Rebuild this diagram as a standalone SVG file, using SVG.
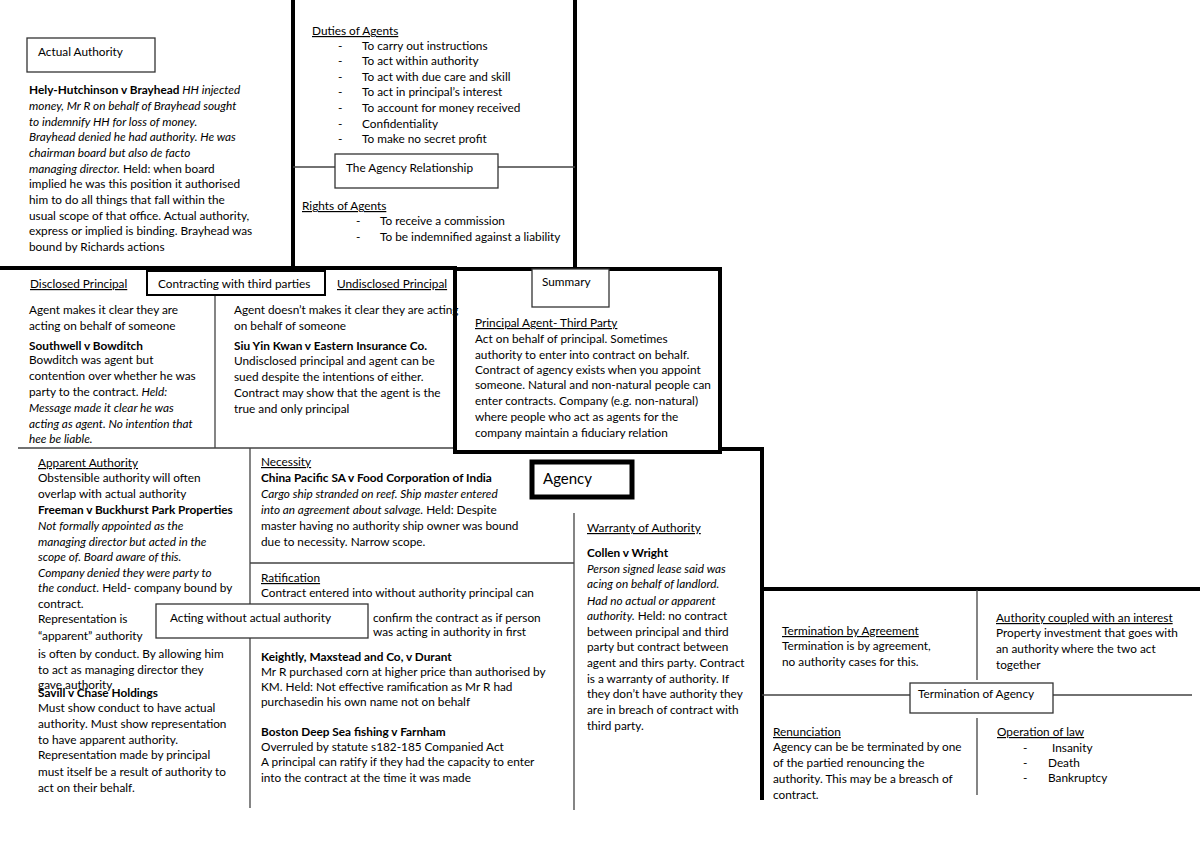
<svg xmlns="http://www.w3.org/2000/svg" width="1200" height="848" viewBox="0 0 1200 848">
<style>
text{font-family:Lato,"Liberation Sans",sans-serif;font-size:11.8px;fill:#000}
.b{font-weight:bold}
.i{font-style:italic}
.u{text-decoration:underline}
.thick{stroke:#000;stroke-width:4;fill:none}
.thin{stroke:#444;stroke-width:1.3;fill:none}
.box{stroke:#333;stroke-width:1.3;fill:#fff}
</style>
<rect width="1200" height="848" fill="#fff"/>
<g id="connectors">
<path class="thick" d="M293,0V268M575,0V268M0,268H457M720,449H762V589H1200M762,589V800"/>
<path class="thin" d="M293,167H335M498,167H575M215,295V448M18,448H455M250,448V604M250,638V808M250,563H574M574,513V810M977,590V680M977,718V795M762,695H910M1053,695H1192"/>
</g>
<g id="actual-authority">
<rect class="box" x="27" y="38" width="128" height="34"/>
<text x="38" y="56">Actual Authority</text>
<text x="29" y="94"><tspan class="b">Hely-Hutchinson v Brayhead</tspan><tspan class="i"> HH injected</tspan></text>
<text x="29" y="110" class="i">money, Mr R on behalf of Brayhead sought</text>
<text x="29" y="126" class="i">to indemnify HH for loss of money.</text>
<text x="29" y="141" class="i">Brayhead denied he had authority. He was</text>
<text x="29" y="157" class="i">chairman board but also de facto</text>
<text x="29" y="173"><tspan class="i">managing director.</tspan> Held: when board</text>
<text x="29" y="188">implied he was this position it authorised</text>
<text x="29" y="204">him to do all things that fall within the</text>
<text x="29" y="220">usual scope of that office. Actual authority,</text>
<text x="29" y="235">express or implied is binding. Brayhead was</text>
<text x="29" y="251">bound by Richards actions</text>
</g>
<g id="agency-relationship">
<text x="312" y="35" class="u">Duties of Agents </text>
<text x="338" y="50">-</text><text x="362" y="50">To carry out instructions</text>
<text x="338" y="65">-</text><text x="362" y="65">To act within authority</text>
<text x="338" y="81">-</text><text x="362" y="81">To act with due care and skill</text>
<text x="338" y="96">-</text><text x="362" y="96">To act in principal’s interest</text>
<text x="338" y="112">-</text><text x="362" y="112">To account for money received</text>
<text x="338" y="128">-</text><text x="362" y="128">Confidentiality</text>
<text x="338" y="143">-</text><text x="362" y="143">To make no secret profit</text>
<rect class="box" x="335" y="154" width="163" height="34"/>
<text x="346" y="172">The Agency Relationship</text>
<text x="302" y="210" class="u">Rights of Agents </text>
<text x="356" y="225">-</text><text x="380" y="225">To receive a commission</text>
<text x="356" y="241">-</text><text x="380" y="241">To be indemnified against a liability</text>
</g>
<g id="contracting">
<text x="30" y="288" class="u">Disclosed Principal</text>
<text x="337" y="288" class="u">Undisclosed Principal</text>
<text x="29" y="314">Agent makes it clear they are</text>
<text x="29" y="330">acting on behalf of someone</text>
<text x="29" y="350" class="b">Southwell v Bowditch</text>
<text x="29" y="364">Bowditch was agent but</text>
<text x="29" y="380">contention over whether he was</text>
<text x="29" y="396">party to the contract. <tspan class="i">Held:</tspan></text>
<text x="29" y="412" class="i">Message made it clear he was</text>
<text x="29" y="428" class="i">acting as agent. No intention that</text>
<text x="29" y="443" class="i">hee be liable.</text>
<text x="234" y="314">Agent doesn’t makes it clear they are acting</text>
<text x="234" y="330">on behalf of someone</text>
<text x="234" y="350" class="b">Siu Yin Kwan v Eastern Insurance Co.</text>
<text x="234" y="365">Undisclosed principal and agent can be</text>
<text x="234" y="381">sued despite the intentions of either.</text>
<text x="234" y="397">Contract may show that the  agent is the</text>
<text x="234" y="413">true and only principal</text>
<rect x="147" y="271" width="178" height="24" fill="#fff" stroke="#000" stroke-width="2"/>
<text x="158" y="288">Contracting with third parties</text>
</g>
<g id="summary">
<rect class="thick" x="455" y="269" width="265" height="183" fill="#fff"/>
<rect class="box" x="532" y="269" width="77" height="38"/>
<text x="542" y="286">Summary</text>
<text x="475" y="327" class="u">Principal Agent- Third Party</text>
<text x="475" y="343">Act on behalf of principal. Sometimes</text>
<text x="475" y="359">authority to enter into contract on behalf.</text>
<text x="475" y="374">Contract of agency exists when you appoint</text>
<text x="475" y="389">someone. Natural and non-natural people can</text>
<text x="475" y="405">enter contracts. Company (e.g. non-natural)</text>
<text x="475" y="421">where people who act as agents for the</text>
<text x="475" y="437">company maintain a fiduciary relation</text>
</g>
<g id="agency">
<rect x="532" y="462" width="100" height="35" fill="#fff" stroke="#000" stroke-width="5"/>
<text x="543" y="484" style="font-size:15px">Agency</text>
</g>
<g id="apparent-authority">
<text x="38" y="467" class="u">Apparent Authority </text>
<text x="38" y="482">Obstensible authority will often</text>
<text x="38" y="498">overlap with actual authority</text>
<text x="38" y="514" class="b">Freeman v Buckhurst Park Properties</text>
<text x="38" y="530" class="i">Not formally appointed as the</text>
<text x="38" y="546" class="i">managing director but acted in the</text>
<text x="38" y="561" class="i">scope of. Board aware of this.</text>
<text x="38" y="577" class="i">Company denied they were party to</text>
<text x="38" y="592"><tspan class="i">the conduct.</tspan> Held- company bound by</text>
<text x="38" y="608">contract.</text>
<text x="38" y="623">Representation  is</text>
<text x="38" y="640">“apparent” authority</text>
<text x="38" y="658">is often by conduct. By allowing him</text>
<text x="38" y="674">to act as managing director they</text>
<text x="38" y="689">gave authority</text>
<text x="38" y="697" class="b">Savill v Chase Holdings</text>
<text x="38" y="712">Must show conduct to have actual</text>
<text x="38" y="728">authority. Must show representation</text>
<text x="38" y="744">to have apparent authority.</text>
<text x="38" y="759">Representation made by principal</text>
<text x="38" y="776">must itself be a result of authority to</text>
<text x="38" y="792">act on their behalf.</text>
</g>
<g id="acting-without-authority">
<rect class="box" x="156" y="604" width="212" height="34"/>
<text x="170" y="622">Acting without actual authority</text>
</g>
<g id="necessity">
<text x="261" y="466" class="u">Necessity </text>
<text x="261" y="482" class="b">China Pacific SA v Food Corporation of India</text>
<text x="261" y="498" class="i">Cargo ship stranded on reef. Ship master entered</text>
<text x="261" y="514"><tspan class="i">into an agreement about salvage.</tspan> Held: Despite</text>
<text x="261" y="530">master having no authority ship owner was bound</text>
<text x="261" y="546">due to necessity. Narrow scope.</text>
</g>
<g id="ratification">
<text x="261" y="582" class="u">Ratification </text>
<text x="261" y="597">Contract entered into without authority principal can</text>
<text x="373" y="622">confirm the contract as if person</text>
<text x="373" y="636">was acting in authority in first</text>
<text x="261" y="661" class="b">Keightly, Maxstead and Co, v Durant</text>
<text x="261" y="676">Mr R purchased corn at higher price than authorised by</text>
<text x="261" y="691">KM. Held: Not effective ramification as Mr R had</text>
<text x="261" y="706">purchasedin his own name not on behalf</text>
<text x="261" y="736" class="b">Boston Deep Sea fishing v Farnham</text>
<text x="261" y="751">Overruled by statute s182-185 Companied Act</text>
<text x="261" y="766">A principal can ratify if they had the capacity to enter</text>
<text x="261" y="782">into the contract at the time it was made</text>
</g>
<g id="warranty">
<text x="587" y="532" class="u">Warranty of Authority </text>
<text x="587" y="557" class="b">Collen v Wright</text>
<text x="587" y="573" class="i">Person signed lease said was</text>
<text x="587" y="588" class="i">acing on behalf of landlord.</text>
<text x="587" y="605" class="i">Had no actual or apparent</text>
<text x="587" y="620"><tspan class="i">authority.</tspan> Held: no contract</text>
<text x="587" y="636">between principal and third</text>
<text x="587" y="651">party but contract between</text>
<text x="587" y="667">agent and thirs party. Contract</text>
<text x="587" y="683">is a warranty of authority. If</text>
<text x="587" y="698">they don’t have authority they</text>
<text x="587" y="714">are in breach of contract with</text>
<text x="587" y="730">third party.</text>
</g>
<g id="termination">
<text x="782" y="635" class="u">Termination by Agreement </text>
<text x="782" y="650">Termination is by agreement,</text>
<text x="782" y="666">no authority cases for this.</text>
<text x="996" y="622" class="u">Authority coupled with an interest </text>
<text x="996" y="637">Property investment that goes with</text>
<text x="996" y="653">an authority where the two act</text>
<text x="996" y="669">together</text>
<rect class="box" x="910" y="683" width="143" height="30"/>
<text x="918" y="698">Termination of Agency</text>
<text x="773" y="736" class="u">Renunciation </text>
<text x="773" y="751">Agency can be be terminated by one</text>
<text x="773" y="767">of the partied renouncing the</text>
<text x="773" y="783">authority. This may be a breasch of</text>
<text x="773" y="799">contract.</text>
<text x="997" y="736" class="u">Operation of law </text>
<text x="1023" y="752">-</text><text x="1052" y="752">Insanity</text>
<text x="1023" y="767">-</text><text x="1048" y="767">Death</text>
<text x="1023" y="782">-</text><text x="1048" y="782">Bankruptcy</text>
</g>
</svg>
